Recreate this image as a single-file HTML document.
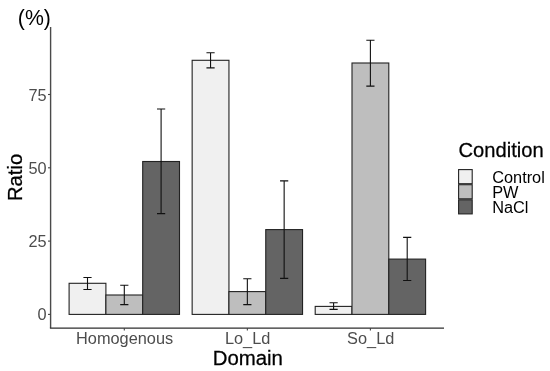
<!DOCTYPE html>
<html><head><meta charset="utf-8"><style>
html,body{margin:0;padding:0;background:#fff;}
svg{display:block;}
text{font-family:"Liberation Sans",Arial,sans-serif;}
.tk{font-size:16px;fill:#4d4d4d;}
.lg{font-size:16px;fill:#000;}
.ttl{font-size:20px;fill:#000;stroke:#000;stroke-width:0.25px;}
</style></head><body>
<svg width="550" height="371" viewBox="0 0 550 371">
<rect width="550" height="371" fill="#fff"/>
<rect x="69.10" y="283.30" width="36.80" height="31.10" fill="#f0f0f0" stroke="#222" stroke-width="1.1"/>
<rect x="105.90" y="295.00" width="36.80" height="19.40" fill="#bebebe" stroke="#222" stroke-width="1.1"/>
<rect x="142.70" y="161.50" width="36.80" height="152.90" fill="#646464" stroke="#222" stroke-width="1.1"/>
<rect x="192.15" y="60.30" width="36.80" height="254.10" fill="#f0f0f0" stroke="#222" stroke-width="1.1"/>
<rect x="228.95" y="291.60" width="36.80" height="22.80" fill="#bebebe" stroke="#222" stroke-width="1.1"/>
<rect x="265.75" y="229.60" width="36.80" height="84.80" fill="#646464" stroke="#222" stroke-width="1.1"/>
<rect x="315.20" y="306.40" width="36.80" height="8.00" fill="#f0f0f0" stroke="#222" stroke-width="1.1"/>
<rect x="352.00" y="63.00" width="36.80" height="251.40" fill="#bebebe" stroke="#222" stroke-width="1.1"/>
<rect x="388.80" y="259.10" width="36.80" height="55.30" fill="#646464" stroke="#222" stroke-width="1.1"/>
<path d="M83.40 277.50H91.60M87.50 277.50V289.50M83.40 289.50H91.60" stroke="#111" stroke-width="1.1" fill="none"/>
<path d="M120.20 285.30H128.40M124.30 285.30V304.60M120.20 304.60H128.40" stroke="#111" stroke-width="1.1" fill="none"/>
<path d="M157.00 109.00H165.20M161.10 109.00V213.60M157.00 213.60H165.20" stroke="#111" stroke-width="1.1" fill="none"/>
<path d="M206.45 52.80H214.65M210.55 52.80V67.90M206.45 67.90H214.65" stroke="#111" stroke-width="1.1" fill="none"/>
<path d="M243.25 278.80H251.45M247.35 278.80V304.60M243.25 304.60H251.45" stroke="#111" stroke-width="1.1" fill="none"/>
<path d="M280.05 180.90H288.25M284.15 180.90V278.40M280.05 278.40H288.25" stroke="#111" stroke-width="1.1" fill="none"/>
<path d="M329.50 302.70H337.70M333.60 302.70V309.40M329.50 309.40H337.70" stroke="#111" stroke-width="1.1" fill="none"/>
<path d="M366.30 40.20H374.50M370.40 40.20V86.10M366.30 86.10H374.50" stroke="#111" stroke-width="1.1" fill="none"/>
<path d="M403.10 237.40H411.30M407.20 237.40V280.50M403.10 280.50H411.30" stroke="#111" stroke-width="1.1" fill="none"/>
<path d="M50.60 27.00V328.10" stroke="#4a4a4a" stroke-width="1.4" fill="none"/>
<path d="M49.90 328.10H444.04" stroke="#2e2e2e" stroke-width="1.4" fill="none"/>
<path d="M48.0 314.40H50.60" stroke="#444" stroke-width="1.1"/>
<text transform="translate(46.70 320.20) scale(1.02 1)" text-anchor="end" class="tk">0</text>
<path d="M48.0 241.10H50.60" stroke="#444" stroke-width="1.1"/>
<text transform="translate(46.70 247.30) scale(1.02 1)" text-anchor="end" class="tk">25</text>
<path d="M48.0 167.80H50.60" stroke="#444" stroke-width="1.1"/>
<text transform="translate(46.70 174.00) scale(1.02 1)" text-anchor="end" class="tk">50</text>
<path d="M48.0 94.50H50.60" stroke="#444" stroke-width="1.1"/>
<text transform="translate(46.70 100.70) scale(1.02 1)" text-anchor="end" class="tk">75</text>
<path d="M124.30 328.10V330.6" stroke="#444" stroke-width="1.1"/>
<text transform="translate(124.60 344.20) scale(1.02 1)" text-anchor="middle" class="tk">Homogenous</text>
<path d="M247.35 328.10V330.6" stroke="#444" stroke-width="1.1"/>
<text transform="translate(247.65 344.20) scale(1.02 1)" text-anchor="middle" class="tk">Lo<tspan dy="0.6">_</tspan><tspan dy="-0.6">Ld</tspan></text>
<path d="M370.40 328.10V330.6" stroke="#444" stroke-width="1.1"/>
<text transform="translate(370.70 344.20) scale(1.02 1)" text-anchor="middle" class="tk">So<tspan dy="0.6">_</tspan><tspan dy="-0.6">Ld</tspan></text>
<text transform="translate(17.80 24.60) scale(0.995 1)" style="font-size:21.4px;fill:#000">(%)</text>
<text transform="translate(21.90 177.40) rotate(-90) scale(1.01 1)" text-anchor="middle" class="ttl">Ratio</text>
<text transform="translate(247.80 364.50) scale(1.02 1)" text-anchor="middle" class="ttl">Domain</text>
<text transform="translate(458.50 156.70) scale(1.008 1)" class="ttl">Condition</text>
<rect x="458.6" y="169.60" width="13.6" height="14.10" fill="#f0f0f0" stroke="#222" stroke-width="1.1"/>
<rect x="458.6" y="184.70" width="13.6" height="14.10" fill="#bebebe" stroke="#222" stroke-width="1.1"/>
<rect x="458.6" y="199.80" width="13.6" height="14.10" fill="#646464" stroke="#222" stroke-width="1.1"/>
<text transform="translate(492.20 183.00) scale(1.02 1)" class="lg">Control</text>
<text transform="translate(492.20 197.70) scale(1.02 1)" class="lg">PW</text>
<text transform="translate(492.20 213.00) scale(1.02 1)" class="lg">NaCl</text>
</svg>
</body></html>
